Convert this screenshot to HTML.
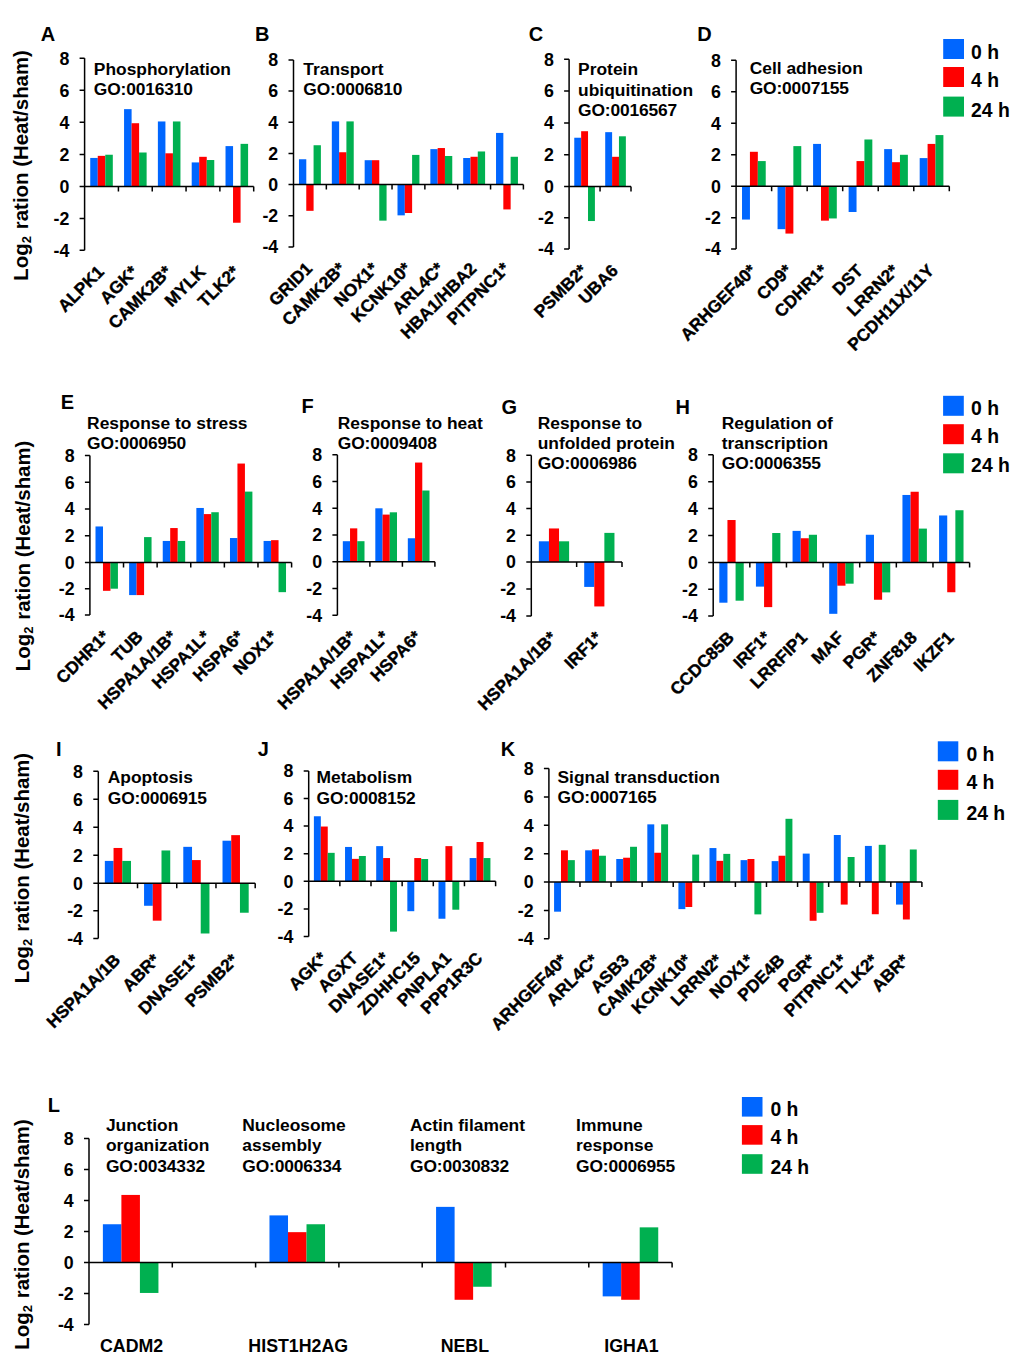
<!DOCTYPE html>
<html><head><meta charset="utf-8"><title>GO panels</title>
<style>
html,body{margin:0;padding:0;background:#fff;}
body{width:1024px;height:1369px;overflow:hidden;}
svg{display:block;}
text{font-family:"Liberation Sans", sans-serif;fill:#000;}
</style></head>
<body>
<svg width="1024" height="1369" viewBox="0 0 1024 1369">
<rect x="0" y="0" width="1024" height="1369" fill="#fff"/>
<rect x="90.24" y="157.94" width="7.54" height="28.56" fill="#0066FF"/>
<rect x="97.75" y="155.86" width="7.54" height="30.64" fill="#FF0000"/>
<rect x="105.27" y="154.74" width="7.54" height="31.76" fill="#00B050"/>
<rect x="124.06" y="109.14" width="7.54" height="77.36" fill="#0066FF"/>
<rect x="131.57" y="123.22" width="7.54" height="63.28" fill="#FF0000"/>
<rect x="139.09" y="152.5" width="7.54" height="34" fill="#00B050"/>
<rect x="157.88" y="121.46" width="7.54" height="65.04" fill="#0066FF"/>
<rect x="165.39" y="153.3" width="7.54" height="33.2" fill="#FF0000"/>
<rect x="172.91" y="121.46" width="7.54" height="65.04" fill="#00B050"/>
<rect x="191.7" y="162.42" width="7.54" height="24.08" fill="#0066FF"/>
<rect x="199.21" y="156.82" width="7.54" height="29.68" fill="#FF0000"/>
<rect x="206.73" y="160.02" width="7.54" height="26.48" fill="#00B050"/>
<rect x="225.52" y="146.1" width="7.54" height="40.4" fill="#0066FF"/>
<rect x="233.03" y="186.5" width="7.54" height="36.24" fill="#FF0000"/>
<rect x="240.55" y="143.86" width="7.54" height="42.64" fill="#00B050"/>
<path d="M84.6 58.15V250.3" stroke="#000" stroke-width="1.5" fill="none"/>
<path d="M79.6 58.15H84.6M79.6 90.24H84.6M79.6 122.33H84.6M79.6 154.41H84.6M79.6 186.5H84.6M79.6 218.4H84.6M79.6 250.3H84.6" stroke="#000" stroke-width="1.5" fill="none"/>
<path d="M84.6 186.5H253.7" stroke="#000" stroke-width="1.5" fill="none"/>
<path d="M118.42 186.5V191.5M152.24 186.5V191.5M186.06 186.5V191.5M219.88 186.5V191.5M253.7 186.5V191.5" stroke="#000" stroke-width="1.5" fill="none"/>
<text x="69.3" y="64.5" font-size="17.8" text-anchor="end" font-weight="bold">8</text>
<text x="69.3" y="96.59" font-size="17.8" text-anchor="end" font-weight="bold">6</text>
<text x="69.3" y="128.68" font-size="17.8" text-anchor="end" font-weight="bold">4</text>
<text x="69.3" y="160.77" font-size="17.8" text-anchor="end" font-weight="bold">2</text>
<text x="69.3" y="192.85" font-size="17.8" text-anchor="end" font-weight="bold">0</text>
<text x="69.3" y="224.75" font-size="17.8" text-anchor="end" font-weight="bold">-2</text>
<text x="69.3" y="256.65" font-size="17.8" text-anchor="end" font-weight="bold">-4</text>
<text x="40.7" y="41" font-size="20" text-anchor="start" font-weight="bold">A</text>
<text x="93.8" y="74.7" font-size="17.4" text-anchor="start" font-weight="bold">Phosphorylation</text>
<text x="93.8" y="95" font-size="17.4" text-anchor="start" font-weight="bold" letter-spacing="-0.15">GO:0016310</text>
<text transform="translate(105.01 273) rotate(-45)" font-size="17.3" text-anchor="end" font-weight="bold" stroke="#000" stroke-width="0.4">ALPK1</text>
<text transform="translate(138.83 273) rotate(-45)" font-size="17.3" text-anchor="end" font-weight="bold" stroke="#000" stroke-width="0.4">AGK*</text>
<text transform="translate(172.65 273) rotate(-45)" font-size="17.3" text-anchor="end" font-weight="bold" stroke="#000" stroke-width="0.4">CAMK2B*</text>
<text transform="translate(206.47 273) rotate(-45)" font-size="17.3" text-anchor="end" font-weight="bold" stroke="#000" stroke-width="0.4">MYLK</text>
<text transform="translate(240.29 273) rotate(-45)" font-size="17.3" text-anchor="end" font-weight="bold" stroke="#000" stroke-width="0.4">TLK2*</text>
<rect x="298.97" y="159.26" width="7.32" height="25.24" fill="#0066FF"/>
<rect x="306.27" y="184.5" width="7.32" height="26.33" fill="#FF0000"/>
<rect x="313.57" y="145.24" width="7.32" height="39.26" fill="#00B050"/>
<rect x="331.82" y="121.4" width="7.32" height="63.1" fill="#0066FF"/>
<rect x="339.12" y="152.25" width="7.32" height="32.25" fill="#FF0000"/>
<rect x="346.41" y="121.4" width="7.32" height="63.1" fill="#00B050"/>
<rect x="364.66" y="160.2" width="7.32" height="24.3" fill="#0066FF"/>
<rect x="371.96" y="160.2" width="7.32" height="24.3" fill="#FF0000"/>
<rect x="379.26" y="184.5" width="7.32" height="36.15" fill="#00B050"/>
<rect x="397.5" y="184.5" width="7.32" height="30.85" fill="#0066FF"/>
<rect x="404.8" y="184.5" width="7.32" height="28.51" fill="#FF0000"/>
<rect x="412.1" y="154.9" width="7.32" height="29.6" fill="#00B050"/>
<rect x="430.35" y="149.13" width="7.32" height="35.37" fill="#0066FF"/>
<rect x="437.64" y="148.04" width="7.32" height="36.46" fill="#FF0000"/>
<rect x="444.94" y="155.99" width="7.32" height="28.51" fill="#00B050"/>
<rect x="463.19" y="158.01" width="7.32" height="26.49" fill="#0066FF"/>
<rect x="470.49" y="156.77" width="7.32" height="27.73" fill="#FF0000"/>
<rect x="477.78" y="151.47" width="7.32" height="33.03" fill="#00B050"/>
<rect x="496.03" y="132.93" width="7.32" height="51.57" fill="#0066FF"/>
<rect x="503.33" y="184.5" width="7.32" height="24.93" fill="#FF0000"/>
<rect x="510.63" y="156.77" width="7.32" height="27.73" fill="#00B050"/>
<path d="M293.5 60V247" stroke="#000" stroke-width="1.5" fill="none"/>
<path d="M288.5 60H293.5M288.5 91.12H293.5M288.5 122.25H293.5M288.5 153.38H293.5M288.5 184.5H293.5M288.5 215.75H293.5M288.5 247H293.5" stroke="#000" stroke-width="1.5" fill="none"/>
<path d="M293.5 184.5H523.4" stroke="#000" stroke-width="1.5" fill="none"/>
<path d="M326.34 184.5V189.5M359.19 184.5V189.5M392.03 184.5V189.5M424.87 184.5V189.5M457.71 184.5V189.5M490.56 184.5V189.5M523.4 184.5V189.5" stroke="#000" stroke-width="1.5" fill="none"/>
<text x="278.2" y="66.35" font-size="17.8" text-anchor="end" font-weight="bold">8</text>
<text x="278.2" y="97.48" font-size="17.8" text-anchor="end" font-weight="bold">6</text>
<text x="278.2" y="128.6" font-size="17.8" text-anchor="end" font-weight="bold">4</text>
<text x="278.2" y="159.73" font-size="17.8" text-anchor="end" font-weight="bold">2</text>
<text x="278.2" y="190.85" font-size="17.8" text-anchor="end" font-weight="bold">0</text>
<text x="278.2" y="222.1" font-size="17.8" text-anchor="end" font-weight="bold">-2</text>
<text x="278.2" y="253.35" font-size="17.8" text-anchor="end" font-weight="bold">-4</text>
<text x="255" y="41.3" font-size="20" text-anchor="start" font-weight="bold">B</text>
<text x="303.3" y="74.6" font-size="17.4" text-anchor="start" font-weight="bold">Transport</text>
<text x="303.3" y="94.9" font-size="17.4" text-anchor="start" font-weight="bold" letter-spacing="-0.15">GO:0006810</text>
<text transform="translate(313.42 269.7) rotate(-45)" font-size="17.3" text-anchor="end" font-weight="bold" stroke="#000" stroke-width="0.4">GRID1</text>
<text transform="translate(346.26 269.7) rotate(-45)" font-size="17.3" text-anchor="end" font-weight="bold" stroke="#000" stroke-width="0.4">CAMK2B*</text>
<text transform="translate(379.11 269.7) rotate(-45)" font-size="17.3" text-anchor="end" font-weight="bold" stroke="#000" stroke-width="0.4">NOX1*</text>
<text transform="translate(411.95 269.7) rotate(-45)" font-size="17.3" text-anchor="end" font-weight="bold" stroke="#000" stroke-width="0.4">KCNK10*</text>
<text transform="translate(444.79 269.7) rotate(-45)" font-size="17.3" text-anchor="end" font-weight="bold" stroke="#000" stroke-width="0.4">ARL4C*</text>
<text transform="translate(477.64 269.7) rotate(-45)" font-size="17.3" text-anchor="end" font-weight="bold" stroke="#000" stroke-width="0.4">HBA1/HBA2</text>
<text transform="translate(510.48 269.7) rotate(-45)" font-size="17.3" text-anchor="end" font-weight="bold" stroke="#000" stroke-width="0.4">PITPNC1*</text>
<rect x="574.26" y="137.73" width="6.9" height="48.87" fill="#0066FF"/>
<rect x="581.14" y="131.21" width="6.9" height="55.39" fill="#FF0000"/>
<rect x="588.01" y="186.6" width="6.9" height="34.44" fill="#00B050"/>
<rect x="605.21" y="132.16" width="6.9" height="54.44" fill="#0066FF"/>
<rect x="612.09" y="156.81" width="6.9" height="29.79" fill="#FF0000"/>
<rect x="618.96" y="136.3" width="6.9" height="50.3" fill="#00B050"/>
<path d="M569.1 59.2V249.1" stroke="#000" stroke-width="1.5" fill="none"/>
<path d="M564.1 59.2H569.1M564.1 91.05H569.1M564.1 122.9H569.1M564.1 154.75H569.1M564.1 186.6H569.1M564.1 217.85H569.1M564.1 249.1H569.1" stroke="#000" stroke-width="1.5" fill="none"/>
<path d="M569.1 186.6H631" stroke="#000" stroke-width="1.5" fill="none"/>
<path d="M600.05 186.6V191.6M631 186.6V191.6" stroke="#000" stroke-width="1.5" fill="none"/>
<text x="553.8" y="65.55" font-size="17.8" text-anchor="end" font-weight="bold">8</text>
<text x="553.8" y="97.4" font-size="17.8" text-anchor="end" font-weight="bold">6</text>
<text x="553.8" y="129.25" font-size="17.8" text-anchor="end" font-weight="bold">4</text>
<text x="553.8" y="161.1" font-size="17.8" text-anchor="end" font-weight="bold">2</text>
<text x="553.8" y="192.95" font-size="17.8" text-anchor="end" font-weight="bold">0</text>
<text x="553.8" y="224.2" font-size="17.8" text-anchor="end" font-weight="bold">-2</text>
<text x="553.8" y="255.45" font-size="17.8" text-anchor="end" font-weight="bold">-4</text>
<text x="528.7" y="40.5" font-size="20" text-anchor="start" font-weight="bold">C</text>
<text x="578.1" y="75.2" font-size="17.4" text-anchor="start" font-weight="bold">Protein</text>
<text x="578.1" y="95.5" font-size="17.4" text-anchor="start" font-weight="bold">ubiquitination</text>
<text x="578.1" y="115.8" font-size="17.4" text-anchor="start" font-weight="bold" letter-spacing="-0.15">GO:0016567</text>
<text transform="translate(588.08 271.8) rotate(-45)" font-size="17.3" text-anchor="end" font-weight="bold" stroke="#000" stroke-width="0.4">PSMB2*</text>
<text transform="translate(619.02 271.8) rotate(-45)" font-size="17.3" text-anchor="end" font-weight="bold" stroke="#000" stroke-width="0.4">UBA6</text>
<rect x="742.02" y="186.3" width="7.92" height="33.25" fill="#0066FF"/>
<rect x="749.92" y="151.79" width="7.92" height="34.51" fill="#FF0000"/>
<rect x="757.81" y="161.08" width="7.92" height="25.22" fill="#00B050"/>
<rect x="777.56" y="186.3" width="7.92" height="42.87" fill="#0066FF"/>
<rect x="785.45" y="186.3" width="7.92" height="47.28" fill="#FF0000"/>
<rect x="793.35" y="146.11" width="7.92" height="40.19" fill="#00B050"/>
<rect x="813.09" y="143.91" width="7.92" height="42.39" fill="#0066FF"/>
<rect x="820.99" y="186.3" width="7.92" height="34.36" fill="#FF0000"/>
<rect x="828.88" y="186.3" width="7.92" height="32.15" fill="#00B050"/>
<rect x="848.62" y="186.3" width="7.92" height="25.69" fill="#0066FF"/>
<rect x="856.52" y="161.08" width="7.92" height="25.22" fill="#FF0000"/>
<rect x="864.41" y="139.49" width="7.92" height="46.81" fill="#00B050"/>
<rect x="884.16" y="149.11" width="7.92" height="37.19" fill="#0066FF"/>
<rect x="892.05" y="162.19" width="7.92" height="24.11" fill="#FF0000"/>
<rect x="899.95" y="154.78" width="7.92" height="31.52" fill="#00B050"/>
<rect x="919.69" y="158.09" width="7.92" height="28.21" fill="#0066FF"/>
<rect x="927.59" y="143.91" width="7.92" height="42.39" fill="#FF0000"/>
<rect x="935.48" y="135.08" width="7.92" height="51.22" fill="#00B050"/>
<path d="M736.1 60.2V249" stroke="#000" stroke-width="1.5" fill="none"/>
<path d="M731.1 60.2H736.1M731.1 91.73H736.1M731.1 123.25H736.1M731.1 154.78H736.1M731.1 186.3H736.1M731.1 217.65H736.1M731.1 249H736.1" stroke="#000" stroke-width="1.5" fill="none"/>
<path d="M736.1 186.3H949.3" stroke="#000" stroke-width="1.5" fill="none"/>
<path d="M771.63 186.3V191.3M807.17 186.3V191.3M842.7 186.3V191.3M878.23 186.3V191.3M913.77 186.3V191.3M949.3 186.3V191.3" stroke="#000" stroke-width="1.5" fill="none"/>
<text x="720.8" y="66.55" font-size="17.8" text-anchor="end" font-weight="bold">8</text>
<text x="720.8" y="98.08" font-size="17.8" text-anchor="end" font-weight="bold">6</text>
<text x="720.8" y="129.6" font-size="17.8" text-anchor="end" font-weight="bold">4</text>
<text x="720.8" y="161.13" font-size="17.8" text-anchor="end" font-weight="bold">2</text>
<text x="720.8" y="192.65" font-size="17.8" text-anchor="end" font-weight="bold">0</text>
<text x="720.8" y="224" font-size="17.8" text-anchor="end" font-weight="bold">-2</text>
<text x="720.8" y="255.35" font-size="17.8" text-anchor="end" font-weight="bold">-4</text>
<text x="697.3" y="41.3" font-size="20" text-anchor="start" font-weight="bold">D</text>
<text x="749.7" y="74.1" font-size="17.4" text-anchor="start" font-weight="bold">Cell adhesion</text>
<text x="749.7" y="94.4" font-size="17.4" text-anchor="start" font-weight="bold" letter-spacing="-0.15">GO:0007155</text>
<text transform="translate(757.37 271.7) rotate(-45)" font-size="17.3" text-anchor="end" font-weight="bold" stroke="#000" stroke-width="0.4">ARHGEF40*</text>
<text transform="translate(792.9 271.7) rotate(-45)" font-size="17.3" text-anchor="end" font-weight="bold" stroke="#000" stroke-width="0.4">CD9*</text>
<text transform="translate(828.43 271.7) rotate(-45)" font-size="17.3" text-anchor="end" font-weight="bold" stroke="#000" stroke-width="0.4">CDHR1*</text>
<text transform="translate(863.97 271.7) rotate(-45)" font-size="17.3" text-anchor="end" font-weight="bold" stroke="#000" stroke-width="0.4">DST</text>
<text transform="translate(899.5 271.7) rotate(-45)" font-size="17.3" text-anchor="end" font-weight="bold" stroke="#000" stroke-width="0.4">LRRN2*</text>
<text transform="translate(935.03 271.7) rotate(-45)" font-size="17.3" text-anchor="end" font-weight="bold" stroke="#000" stroke-width="0.4">PCDH11X/11Y</text>
<rect x="95.5" y="526.46" width="7.49" height="36.04" fill="#0066FF"/>
<rect x="102.97" y="562.5" width="7.49" height="28.33" fill="#FF0000"/>
<rect x="110.44" y="562.5" width="7.49" height="26.2" fill="#00B050"/>
<rect x="129.12" y="562.5" width="7.49" height="32.59" fill="#0066FF"/>
<rect x="136.59" y="562.5" width="7.49" height="32.59" fill="#FF0000"/>
<rect x="144.06" y="537.1" width="7.49" height="25.4" fill="#00B050"/>
<rect x="162.74" y="540.95" width="7.49" height="21.55" fill="#0066FF"/>
<rect x="170.21" y="528.05" width="7.49" height="34.45" fill="#FF0000"/>
<rect x="177.68" y="540.95" width="7.49" height="21.55" fill="#00B050"/>
<rect x="196.35" y="507.97" width="7.49" height="54.53" fill="#0066FF"/>
<rect x="203.82" y="514.09" width="7.49" height="48.41" fill="#FF0000"/>
<rect x="211.29" y="512.23" width="7.49" height="50.27" fill="#00B050"/>
<rect x="229.97" y="538.03" width="7.49" height="24.47" fill="#0066FF"/>
<rect x="237.44" y="463.55" width="7.49" height="98.95" fill="#FF0000"/>
<rect x="244.91" y="491.61" width="7.49" height="70.89" fill="#00B050"/>
<rect x="263.59" y="540.95" width="7.49" height="21.55" fill="#0066FF"/>
<rect x="271.06" y="540.16" width="7.49" height="22.34" fill="#FF0000"/>
<rect x="278.53" y="562.5" width="7.49" height="29.66" fill="#00B050"/>
<path d="M89.9 455.4V615.1" stroke="#000" stroke-width="1.5" fill="none"/>
<path d="M84.9 455.4H89.9M84.9 482.17H89.9M84.9 508.95H89.9M84.9 535.73H89.9M84.9 562.5H89.9M84.9 588.8H89.9M84.9 615.1H89.9" stroke="#000" stroke-width="1.5" fill="none"/>
<path d="M89.9 562.5H291.6" stroke="#000" stroke-width="1.5" fill="none"/>
<path d="M123.52 562.5V567.5M157.13 562.5V567.5M190.75 562.5V567.5M224.37 562.5V567.5M257.98 562.5V567.5M291.6 562.5V567.5" stroke="#000" stroke-width="1.5" fill="none"/>
<text x="74.6" y="461.75" font-size="17.8" text-anchor="end" font-weight="bold">8</text>
<text x="74.6" y="488.53" font-size="17.8" text-anchor="end" font-weight="bold">6</text>
<text x="74.6" y="515.3" font-size="17.8" text-anchor="end" font-weight="bold">4</text>
<text x="74.6" y="542.08" font-size="17.8" text-anchor="end" font-weight="bold">2</text>
<text x="74.6" y="568.85" font-size="17.8" text-anchor="end" font-weight="bold">0</text>
<text x="74.6" y="595.15" font-size="17.8" text-anchor="end" font-weight="bold">-2</text>
<text x="74.6" y="621.45" font-size="17.8" text-anchor="end" font-weight="bold">-4</text>
<text x="60.8" y="408.75" font-size="20" text-anchor="start" font-weight="bold">E</text>
<text x="87.1" y="428.6" font-size="17.4" text-anchor="start" font-weight="bold">Response to stress</text>
<text x="87.1" y="448.9" font-size="17.4" text-anchor="start" font-weight="bold" letter-spacing="-0.15">GO:0006950</text>
<text transform="translate(110.21 637.8) rotate(-45)" font-size="17.3" text-anchor="end" font-weight="bold" stroke="#000" stroke-width="0.4">CDHR1*</text>
<text transform="translate(143.82 637.8) rotate(-45)" font-size="17.3" text-anchor="end" font-weight="bold" stroke="#000" stroke-width="0.4">TUB</text>
<text transform="translate(177.44 637.8) rotate(-45)" font-size="17.3" text-anchor="end" font-weight="bold" stroke="#000" stroke-width="0.4">HSPA1A/1B*</text>
<text transform="translate(211.06 637.8) rotate(-45)" font-size="17.3" text-anchor="end" font-weight="bold" stroke="#000" stroke-width="0.4">HSPA1L*</text>
<text transform="translate(244.68 637.8) rotate(-45)" font-size="17.3" text-anchor="end" font-weight="bold" stroke="#000" stroke-width="0.4">HSPA6*</text>
<text transform="translate(278.29 637.8) rotate(-45)" font-size="17.3" text-anchor="end" font-weight="bold" stroke="#000" stroke-width="0.4">NOX1*</text>
<rect x="342.82" y="541.2" width="7.24" height="20.6" fill="#0066FF"/>
<rect x="350.04" y="528.36" width="7.24" height="33.44" fill="#FF0000"/>
<rect x="357.26" y="541.2" width="7.24" height="20.6" fill="#00B050"/>
<rect x="375.32" y="508.3" width="7.24" height="53.5" fill="#0066FF"/>
<rect x="382.54" y="514.59" width="7.24" height="47.21" fill="#FF0000"/>
<rect x="389.76" y="512.31" width="7.24" height="49.49" fill="#00B050"/>
<rect x="407.82" y="538.26" width="7.24" height="23.54" fill="#0066FF"/>
<rect x="415.04" y="462.56" width="7.24" height="99.24" fill="#FF0000"/>
<rect x="422.26" y="490.51" width="7.24" height="71.29" fill="#00B050"/>
<path d="M337.4 454.8V615.3" stroke="#000" stroke-width="1.5" fill="none"/>
<path d="M332.4 454.8H337.4M332.4 481.55H337.4M332.4 508.3H337.4M332.4 535.05H337.4M332.4 561.8H337.4M332.4 588.55H337.4M332.4 615.3H337.4" stroke="#000" stroke-width="1.5" fill="none"/>
<path d="M337.4 561.8H434.9" stroke="#000" stroke-width="1.5" fill="none"/>
<path d="M369.9 561.8V566.8M402.4 561.8V566.8M434.9 561.8V566.8" stroke="#000" stroke-width="1.5" fill="none"/>
<text x="322.1" y="461.15" font-size="17.8" text-anchor="end" font-weight="bold">8</text>
<text x="322.1" y="487.9" font-size="17.8" text-anchor="end" font-weight="bold">6</text>
<text x="322.1" y="514.65" font-size="17.8" text-anchor="end" font-weight="bold">4</text>
<text x="322.1" y="541.4" font-size="17.8" text-anchor="end" font-weight="bold">2</text>
<text x="322.1" y="568.15" font-size="17.8" text-anchor="end" font-weight="bold">0</text>
<text x="322.1" y="594.9" font-size="17.8" text-anchor="end" font-weight="bold">-2</text>
<text x="322.1" y="621.65" font-size="17.8" text-anchor="end" font-weight="bold">-4</text>
<text x="301.4" y="413.4" font-size="20" text-anchor="start" font-weight="bold">F</text>
<text x="337.8" y="428.6" font-size="17.4" text-anchor="start" font-weight="bold">Response to heat</text>
<text x="337.8" y="448.9" font-size="17.4" text-anchor="start" font-weight="bold" letter-spacing="-0.15">GO:0009408</text>
<text transform="translate(357.15 638) rotate(-45)" font-size="17.3" text-anchor="end" font-weight="bold" stroke="#000" stroke-width="0.4">HSPA1A/1B*</text>
<text transform="translate(389.65 638) rotate(-45)" font-size="17.3" text-anchor="end" font-weight="bold" stroke="#000" stroke-width="0.4">HSPA1L*</text>
<text transform="translate(422.15 638) rotate(-45)" font-size="17.3" text-anchor="end" font-weight="bold" stroke="#000" stroke-width="0.4">HSPA6*</text>
<rect x="538.86" y="541.3" width="10.1" height="20.6" fill="#0066FF"/>
<rect x="548.94" y="528.46" width="10.1" height="33.44" fill="#FF0000"/>
<rect x="559.01" y="541.3" width="10.1" height="20.6" fill="#00B050"/>
<rect x="584.21" y="561.9" width="10.1" height="25.01" fill="#0066FF"/>
<rect x="594.29" y="561.9" width="10.1" height="44.54" fill="#FF0000"/>
<rect x="604.36" y="532.88" width="10.1" height="29.02" fill="#00B050"/>
<path d="M531.3 455.3V616.1" stroke="#000" stroke-width="1.5" fill="none"/>
<path d="M526.3 455.3H531.3M526.3 481.95H531.3M526.3 508.6H531.3M526.3 535.25H531.3M526.3 561.9H531.3M526.3 589H531.3M526.3 616.1H531.3" stroke="#000" stroke-width="1.5" fill="none"/>
<path d="M531.3 561.9H622" stroke="#000" stroke-width="1.5" fill="none"/>
<path d="M576.65 561.9V566.9M622 561.9V566.9" stroke="#000" stroke-width="1.5" fill="none"/>
<text x="516" y="461.65" font-size="17.8" text-anchor="end" font-weight="bold">8</text>
<text x="516" y="488.3" font-size="17.8" text-anchor="end" font-weight="bold">6</text>
<text x="516" y="514.95" font-size="17.8" text-anchor="end" font-weight="bold">4</text>
<text x="516" y="541.6" font-size="17.8" text-anchor="end" font-weight="bold">2</text>
<text x="516" y="568.25" font-size="17.8" text-anchor="end" font-weight="bold">0</text>
<text x="516" y="595.35" font-size="17.8" text-anchor="end" font-weight="bold">-2</text>
<text x="516" y="622.45" font-size="17.8" text-anchor="end" font-weight="bold">-4</text>
<text x="501.5" y="414" font-size="20" text-anchor="start" font-weight="bold">G</text>
<text x="537.7" y="428.6" font-size="17.4" text-anchor="start" font-weight="bold">Response to</text>
<text x="537.7" y="448.9" font-size="17.4" text-anchor="start" font-weight="bold">unfolded protein</text>
<text x="537.7" y="469.2" font-size="17.4" text-anchor="start" font-weight="bold" letter-spacing="-0.15">GO:0006986</text>
<text transform="translate(557.47 638.8) rotate(-45)" font-size="17.3" text-anchor="end" font-weight="bold" stroke="#000" stroke-width="0.4">HSPA1A/1B*</text>
<text transform="translate(602.83 638.8) rotate(-45)" font-size="17.3" text-anchor="end" font-weight="bold" stroke="#000" stroke-width="0.4">IRF1*</text>
<rect x="719.3" y="562.5" width="8.16" height="40.2" fill="#0066FF"/>
<rect x="727.44" y="520.02" width="8.16" height="42.48" fill="#FF0000"/>
<rect x="735.58" y="562.5" width="8.16" height="38.19" fill="#00B050"/>
<rect x="755.93" y="562.5" width="8.16" height="24.12" fill="#0066FF"/>
<rect x="764.07" y="562.5" width="8.16" height="44.62" fill="#FF0000"/>
<rect x="772.21" y="533.02" width="8.16" height="29.48" fill="#00B050"/>
<rect x="792.56" y="530.88" width="8.16" height="31.62" fill="#0066FF"/>
<rect x="800.7" y="538.25" width="8.16" height="24.25" fill="#FF0000"/>
<rect x="808.84" y="534.76" width="8.16" height="27.74" fill="#00B050"/>
<rect x="829.19" y="562.5" width="8.16" height="51.32" fill="#0066FF"/>
<rect x="837.33" y="562.5" width="8.16" height="23.18" fill="#FF0000"/>
<rect x="845.47" y="562.5" width="8.16" height="21.17" fill="#00B050"/>
<rect x="865.82" y="534.76" width="8.16" height="27.74" fill="#0066FF"/>
<rect x="873.96" y="562.5" width="8.16" height="37.25" fill="#FF0000"/>
<rect x="882.1" y="562.5" width="8.16" height="29.88" fill="#00B050"/>
<rect x="902.45" y="494.96" width="8.16" height="67.54" fill="#0066FF"/>
<rect x="910.59" y="491.75" width="8.16" height="70.75" fill="#FF0000"/>
<rect x="918.73" y="528.6" width="8.16" height="33.9" fill="#00B050"/>
<rect x="939.08" y="515.47" width="8.16" height="47.03" fill="#0066FF"/>
<rect x="947.22" y="562.5" width="8.16" height="29.75" fill="#FF0000"/>
<rect x="955.36" y="510.24" width="8.16" height="52.26" fill="#00B050"/>
<path d="M713.2 454.7V615.9" stroke="#000" stroke-width="1.5" fill="none"/>
<path d="M708.2 454.7H713.2M708.2 481.65H713.2M708.2 508.6H713.2M708.2 535.55H713.2M708.2 562.5H713.2M708.2 589.2H713.2M708.2 615.9H713.2" stroke="#000" stroke-width="1.5" fill="none"/>
<path d="M713.2 562.5H969.6" stroke="#000" stroke-width="1.5" fill="none"/>
<path d="M749.83 562.5V567.5M786.46 562.5V567.5M823.09 562.5V567.5M859.71 562.5V567.5M896.34 562.5V567.5M932.97 562.5V567.5M969.6 562.5V567.5" stroke="#000" stroke-width="1.5" fill="none"/>
<text x="697.9" y="461.05" font-size="17.8" text-anchor="end" font-weight="bold">8</text>
<text x="697.9" y="488" font-size="17.8" text-anchor="end" font-weight="bold">6</text>
<text x="697.9" y="514.95" font-size="17.8" text-anchor="end" font-weight="bold">4</text>
<text x="697.9" y="541.9" font-size="17.8" text-anchor="end" font-weight="bold">2</text>
<text x="697.9" y="568.85" font-size="17.8" text-anchor="end" font-weight="bold">0</text>
<text x="697.9" y="595.55" font-size="17.8" text-anchor="end" font-weight="bold">-2</text>
<text x="697.9" y="622.25" font-size="17.8" text-anchor="end" font-weight="bold">-4</text>
<text x="675.6" y="413.7" font-size="20" text-anchor="start" font-weight="bold">H</text>
<text x="721.8" y="428.5" font-size="17.4" text-anchor="start" font-weight="bold">Regulation of</text>
<text x="721.8" y="448.8" font-size="17.4" text-anchor="start" font-weight="bold">transcription</text>
<text x="721.8" y="469.1" font-size="17.4" text-anchor="start" font-weight="bold" letter-spacing="-0.15">GO:0006355</text>
<text transform="translate(735.01 638.6) rotate(-45)" font-size="17.3" text-anchor="end" font-weight="bold" stroke="#000" stroke-width="0.4">CCDC85B</text>
<text transform="translate(771.64 638.6) rotate(-45)" font-size="17.3" text-anchor="end" font-weight="bold" stroke="#000" stroke-width="0.4">IRF1*</text>
<text transform="translate(808.27 638.6) rotate(-45)" font-size="17.3" text-anchor="end" font-weight="bold" stroke="#000" stroke-width="0.4">LRRFIP1</text>
<text transform="translate(844.9 638.6) rotate(-45)" font-size="17.3" text-anchor="end" font-weight="bold" stroke="#000" stroke-width="0.4">MAF</text>
<text transform="translate(881.53 638.6) rotate(-45)" font-size="17.3" text-anchor="end" font-weight="bold" stroke="#000" stroke-width="0.4">PGR*</text>
<text transform="translate(918.16 638.6) rotate(-45)" font-size="17.3" text-anchor="end" font-weight="bold" stroke="#000" stroke-width="0.4">ZNF818</text>
<text transform="translate(954.79 638.6) rotate(-45)" font-size="17.3" text-anchor="end" font-weight="bold" stroke="#000" stroke-width="0.4">IKZF1</text>
<rect x="104.84" y="860.91" width="8.74" height="22.29" fill="#0066FF"/>
<rect x="113.55" y="847.96" width="8.74" height="35.24" fill="#FF0000"/>
<rect x="122.27" y="860.91" width="8.74" height="22.29" fill="#00B050"/>
<rect x="144.06" y="883.2" width="8.74" height="22.57" fill="#0066FF"/>
<rect x="152.78" y="883.2" width="8.74" height="37.47" fill="#FF0000"/>
<rect x="161.5" y="850.46" width="8.74" height="32.74" fill="#00B050"/>
<rect x="183.29" y="846.84" width="8.74" height="36.36" fill="#0066FF"/>
<rect x="192" y="860.08" width="8.74" height="23.12" fill="#FF0000"/>
<rect x="200.72" y="883.2" width="8.74" height="50.29" fill="#00B050"/>
<rect x="222.51" y="840.71" width="8.74" height="42.49" fill="#0066FF"/>
<rect x="231.23" y="835.14" width="8.74" height="48.06" fill="#FF0000"/>
<rect x="239.95" y="883.2" width="8.74" height="29.53" fill="#00B050"/>
<path d="M98.3 771.3V938.5" stroke="#000" stroke-width="1.5" fill="none"/>
<path d="M93.3 771.3H98.3M93.3 799.27H98.3M93.3 827.25H98.3M93.3 855.23H98.3M93.3 883.2H98.3M93.3 910.85H98.3M93.3 938.5H98.3" stroke="#000" stroke-width="1.5" fill="none"/>
<path d="M98.3 883.2H255.2" stroke="#000" stroke-width="1.5" fill="none"/>
<path d="M137.52 883.2V888.2M176.75 883.2V888.2M215.97 883.2V888.2M255.2 883.2V888.2" stroke="#000" stroke-width="1.5" fill="none"/>
<text x="83" y="777.65" font-size="17.8" text-anchor="end" font-weight="bold">8</text>
<text x="83" y="805.63" font-size="17.8" text-anchor="end" font-weight="bold">6</text>
<text x="83" y="833.6" font-size="17.8" text-anchor="end" font-weight="bold">4</text>
<text x="83" y="861.58" font-size="17.8" text-anchor="end" font-weight="bold">2</text>
<text x="83" y="889.55" font-size="17.8" text-anchor="end" font-weight="bold">0</text>
<text x="83" y="917.2" font-size="17.8" text-anchor="end" font-weight="bold">-2</text>
<text x="83" y="944.85" font-size="17.8" text-anchor="end" font-weight="bold">-4</text>
<text x="55.9" y="755.5" font-size="20" text-anchor="start" font-weight="bold">I</text>
<text x="107.8" y="783.2" font-size="17.4" text-anchor="start" font-weight="bold">Apoptosis</text>
<text x="107.8" y="803.5" font-size="17.4" text-anchor="start" font-weight="bold" letter-spacing="-0.15">GO:0006915</text>
<text transform="translate(121.41 961.2) rotate(-45)" font-size="17.3" text-anchor="end" font-weight="bold" stroke="#000" stroke-width="0.4">HSPA1A/1B</text>
<text transform="translate(160.64 961.2) rotate(-45)" font-size="17.3" text-anchor="end" font-weight="bold" stroke="#000" stroke-width="0.4">ABR*</text>
<text transform="translate(199.86 961.2) rotate(-45)" font-size="17.3" text-anchor="end" font-weight="bold" stroke="#000" stroke-width="0.4">DNASE1*</text>
<text transform="translate(239.09 961.2) rotate(-45)" font-size="17.3" text-anchor="end" font-weight="bold" stroke="#000" stroke-width="0.4">PSMB2*</text>
<rect x="313.89" y="816.26" width="6.94" height="64.94" fill="#0066FF"/>
<rect x="320.81" y="826.54" width="6.94" height="54.66" fill="#FF0000"/>
<rect x="327.74" y="852.84" width="6.94" height="28.36" fill="#00B050"/>
<rect x="345.04" y="846.95" width="6.94" height="34.25" fill="#0066FF"/>
<rect x="351.96" y="858.87" width="6.94" height="22.33" fill="#FF0000"/>
<rect x="358.89" y="855.99" width="6.94" height="25.21" fill="#00B050"/>
<rect x="376.19" y="846.13" width="6.94" height="35.07" fill="#0066FF"/>
<rect x="383.11" y="858.05" width="6.94" height="23.15" fill="#FF0000"/>
<rect x="390.04" y="881.2" width="6.94" height="50.42" fill="#00B050"/>
<rect x="407.34" y="881.2" width="6.94" height="30" fill="#0066FF"/>
<rect x="414.26" y="858.05" width="6.94" height="23.15" fill="#FF0000"/>
<rect x="421.19" y="859.01" width="6.94" height="22.19" fill="#00B050"/>
<rect x="438.49" y="881.2" width="6.94" height="37.54" fill="#0066FF"/>
<rect x="445.41" y="846.13" width="6.94" height="35.07" fill="#FF0000"/>
<rect x="452.34" y="881.2" width="6.94" height="28.5" fill="#00B050"/>
<rect x="469.64" y="858.05" width="6.94" height="23.15" fill="#0066FF"/>
<rect x="476.56" y="842.02" width="6.94" height="39.18" fill="#FF0000"/>
<rect x="483.49" y="858.05" width="6.94" height="23.15" fill="#00B050"/>
<path d="M308.7 771V936.6" stroke="#000" stroke-width="1.5" fill="none"/>
<path d="M303.7 771H308.7M303.7 798.55H308.7M303.7 826.1H308.7M303.7 853.65H308.7M303.7 881.2H308.7M303.7 908.9H308.7M303.7 936.6H308.7" stroke="#000" stroke-width="1.5" fill="none"/>
<path d="M308.7 881.2H495.6" stroke="#000" stroke-width="1.5" fill="none"/>
<path d="M339.85 881.2V886.2M371 881.2V886.2M402.15 881.2V886.2M433.3 881.2V886.2M464.45 881.2V886.2M495.6 881.2V886.2" stroke="#000" stroke-width="1.5" fill="none"/>
<text x="293.4" y="777.35" font-size="17.8" text-anchor="end" font-weight="bold">8</text>
<text x="293.4" y="804.9" font-size="17.8" text-anchor="end" font-weight="bold">6</text>
<text x="293.4" y="832.45" font-size="17.8" text-anchor="end" font-weight="bold">4</text>
<text x="293.4" y="860" font-size="17.8" text-anchor="end" font-weight="bold">2</text>
<text x="293.4" y="887.55" font-size="17.8" text-anchor="end" font-weight="bold">0</text>
<text x="293.4" y="915.25" font-size="17.8" text-anchor="end" font-weight="bold">-2</text>
<text x="293.4" y="942.95" font-size="17.8" text-anchor="end" font-weight="bold">-4</text>
<text x="257.7" y="755.5" font-size="20" text-anchor="start" font-weight="bold">J</text>
<text x="316.5" y="783.2" font-size="17.4" text-anchor="start" font-weight="bold">Metabolism</text>
<text x="316.5" y="803.5" font-size="17.4" text-anchor="start" font-weight="bold" letter-spacing="-0.15">GO:0008152</text>
<text transform="translate(327.77 959.3) rotate(-45)" font-size="17.3" text-anchor="end" font-weight="bold" stroke="#000" stroke-width="0.4">AGK*</text>
<text transform="translate(358.93 959.3) rotate(-45)" font-size="17.3" text-anchor="end" font-weight="bold" stroke="#000" stroke-width="0.4">AGXT</text>
<text transform="translate(390.07 959.3) rotate(-45)" font-size="17.3" text-anchor="end" font-weight="bold" stroke="#000" stroke-width="0.4">DNASE1*</text>
<text transform="translate(421.23 959.3) rotate(-45)" font-size="17.3" text-anchor="end" font-weight="bold" stroke="#000" stroke-width="0.4">ZDHHC15</text>
<text transform="translate(452.38 959.3) rotate(-45)" font-size="17.3" text-anchor="end" font-weight="bold" stroke="#000" stroke-width="0.4">PNPLA1</text>
<text transform="translate(483.53 959.3) rotate(-45)" font-size="17.3" text-anchor="end" font-weight="bold" stroke="#000" stroke-width="0.4">PPP1R3C</text>
<rect x="554.08" y="882.1" width="6.93" height="29.58" fill="#0066FF"/>
<rect x="560.99" y="850.33" width="6.93" height="31.77" fill="#FF0000"/>
<rect x="567.9" y="860.13" width="6.93" height="21.97" fill="#00B050"/>
<rect x="585.16" y="850.33" width="6.93" height="31.77" fill="#0066FF"/>
<rect x="592.07" y="849.34" width="6.93" height="32.76" fill="#FF0000"/>
<rect x="598.98" y="855.73" width="6.93" height="26.37" fill="#00B050"/>
<rect x="616.25" y="859" width="6.93" height="23.1" fill="#0066FF"/>
<rect x="623.15" y="857.72" width="6.93" height="24.38" fill="#FF0000"/>
<rect x="630.06" y="846.78" width="6.93" height="35.32" fill="#00B050"/>
<rect x="647.33" y="824.35" width="6.93" height="57.75" fill="#0066FF"/>
<rect x="654.24" y="852.75" width="6.93" height="29.35" fill="#FF0000"/>
<rect x="661.15" y="824.35" width="6.93" height="57.75" fill="#00B050"/>
<rect x="678.41" y="882.1" width="6.93" height="27.02" fill="#0066FF"/>
<rect x="685.32" y="882.1" width="6.93" height="24.89" fill="#FF0000"/>
<rect x="692.23" y="854.59" width="6.93" height="27.51" fill="#00B050"/>
<rect x="709.5" y="848.06" width="6.93" height="34.04" fill="#0066FF"/>
<rect x="716.4" y="860.84" width="6.93" height="21.26" fill="#FF0000"/>
<rect x="723.31" y="853.88" width="6.93" height="28.22" fill="#00B050"/>
<rect x="740.58" y="860.13" width="6.93" height="21.97" fill="#0066FF"/>
<rect x="747.49" y="859" width="6.93" height="23.1" fill="#FF0000"/>
<rect x="754.4" y="882.1" width="6.93" height="32.28" fill="#00B050"/>
<rect x="771.66" y="861.13" width="6.93" height="20.97" fill="#0066FF"/>
<rect x="778.57" y="855.73" width="6.93" height="26.37" fill="#FF0000"/>
<rect x="785.48" y="818.81" width="6.93" height="63.29" fill="#00B050"/>
<rect x="802.75" y="853.6" width="6.93" height="28.5" fill="#0066FF"/>
<rect x="809.65" y="882.1" width="6.93" height="38.67" fill="#FF0000"/>
<rect x="816.56" y="882.1" width="6.93" height="30.71" fill="#00B050"/>
<rect x="833.83" y="835" width="6.93" height="47.1" fill="#0066FF"/>
<rect x="840.74" y="882.1" width="6.93" height="22.48" fill="#FF0000"/>
<rect x="847.65" y="857.01" width="6.93" height="25.09" fill="#00B050"/>
<rect x="864.91" y="845.93" width="6.93" height="36.17" fill="#0066FF"/>
<rect x="871.82" y="882.1" width="6.93" height="32.13" fill="#FF0000"/>
<rect x="878.73" y="844.8" width="6.93" height="37.3" fill="#00B050"/>
<rect x="896" y="882.1" width="6.93" height="22.48" fill="#0066FF"/>
<rect x="902.9" y="882.1" width="6.93" height="37.39" fill="#FF0000"/>
<rect x="909.81" y="849.48" width="6.93" height="32.62" fill="#00B050"/>
<path d="M548.9 768.6V938.7" stroke="#000" stroke-width="1.5" fill="none"/>
<path d="M543.9 768.6H548.9M543.9 796.98H548.9M543.9 825.35H548.9M543.9 853.73H548.9M543.9 882.1H548.9M543.9 910.4H548.9M543.9 938.7H548.9" stroke="#000" stroke-width="1.5" fill="none"/>
<path d="M548.9 882.1H921.9" stroke="#000" stroke-width="1.5" fill="none"/>
<path d="M579.98 882.1V887.1M611.07 882.1V887.1M642.15 882.1V887.1M673.23 882.1V887.1M704.32 882.1V887.1M735.4 882.1V887.1M766.48 882.1V887.1M797.57 882.1V887.1M828.65 882.1V887.1M859.73 882.1V887.1M890.82 882.1V887.1M921.9 882.1V887.1" stroke="#000" stroke-width="1.5" fill="none"/>
<text x="533.6" y="774.95" font-size="17.8" text-anchor="end" font-weight="bold">8</text>
<text x="533.6" y="803.33" font-size="17.8" text-anchor="end" font-weight="bold">6</text>
<text x="533.6" y="831.7" font-size="17.8" text-anchor="end" font-weight="bold">4</text>
<text x="533.6" y="860.08" font-size="17.8" text-anchor="end" font-weight="bold">2</text>
<text x="533.6" y="888.45" font-size="17.8" text-anchor="end" font-weight="bold">0</text>
<text x="533.6" y="916.75" font-size="17.8" text-anchor="end" font-weight="bold">-2</text>
<text x="533.6" y="945.05" font-size="17.8" text-anchor="end" font-weight="bold">-4</text>
<text x="500.7" y="756.1" font-size="20" text-anchor="start" font-weight="bold">K</text>
<text x="557.5" y="783" font-size="17.4" text-anchor="start" font-weight="bold">Signal transduction</text>
<text x="557.5" y="803.3" font-size="17.4" text-anchor="start" font-weight="bold" letter-spacing="-0.15">GO:0007165</text>
<text transform="translate(567.94 961.4) rotate(-45)" font-size="17.3" text-anchor="end" font-weight="bold" stroke="#000" stroke-width="0.4">ARHGEF40*</text>
<text transform="translate(599.02 961.4) rotate(-45)" font-size="17.3" text-anchor="end" font-weight="bold" stroke="#000" stroke-width="0.4">ARL4C*</text>
<text transform="translate(630.11 961.4) rotate(-45)" font-size="17.3" text-anchor="end" font-weight="bold" stroke="#000" stroke-width="0.4">ASB3</text>
<text transform="translate(661.19 961.4) rotate(-45)" font-size="17.3" text-anchor="end" font-weight="bold" stroke="#000" stroke-width="0.4">CAMK2B*</text>
<text transform="translate(692.27 961.4) rotate(-45)" font-size="17.3" text-anchor="end" font-weight="bold" stroke="#000" stroke-width="0.4">KCNK10*</text>
<text transform="translate(723.36 961.4) rotate(-45)" font-size="17.3" text-anchor="end" font-weight="bold" stroke="#000" stroke-width="0.4">LRRN2*</text>
<text transform="translate(754.44 961.4) rotate(-45)" font-size="17.3" text-anchor="end" font-weight="bold" stroke="#000" stroke-width="0.4">NOX1*</text>
<text transform="translate(785.52 961.4) rotate(-45)" font-size="17.3" text-anchor="end" font-weight="bold" stroke="#000" stroke-width="0.4">PDE4B</text>
<text transform="translate(816.61 961.4) rotate(-45)" font-size="17.3" text-anchor="end" font-weight="bold" stroke="#000" stroke-width="0.4">PGR*</text>
<text transform="translate(847.69 961.4) rotate(-45)" font-size="17.3" text-anchor="end" font-weight="bold" stroke="#000" stroke-width="0.4">PITPNC1*</text>
<text transform="translate(878.77 961.4) rotate(-45)" font-size="17.3" text-anchor="end" font-weight="bold" stroke="#000" stroke-width="0.4">TLK2*</text>
<text transform="translate(909.86 961.4) rotate(-45)" font-size="17.3" text-anchor="end" font-weight="bold" stroke="#000" stroke-width="0.4">ABR*</text>
<rect x="102.88" y="1224.25" width="18.53" height="38.35" fill="#0066FF"/>
<rect x="121.39" y="1194.93" width="18.53" height="67.67" fill="#FF0000"/>
<rect x="139.91" y="1262.6" width="18.53" height="30.35" fill="#00B050"/>
<rect x="269.48" y="1215.4" width="18.53" height="47.2" fill="#0066FF"/>
<rect x="287.99" y="1232.16" width="18.53" height="30.44" fill="#FF0000"/>
<rect x="306.51" y="1224.25" width="18.53" height="38.35" fill="#00B050"/>
<rect x="436.08" y="1206.87" width="18.53" height="55.73" fill="#0066FF"/>
<rect x="454.59" y="1262.6" width="18.53" height="37.18" fill="#FF0000"/>
<rect x="473.11" y="1262.6" width="18.53" height="24.15" fill="#00B050"/>
<rect x="602.68" y="1262.6" width="18.53" height="33.77" fill="#0066FF"/>
<rect x="621.19" y="1262.6" width="18.53" height="37.18" fill="#FF0000"/>
<rect x="639.71" y="1227.35" width="18.53" height="35.25" fill="#00B050"/>
<path d="M89 1138.4V1324.4" stroke="#000" stroke-width="1.5" fill="none"/>
<path d="M84 1138.4H89M84 1169.45H89M84 1200.5H89M84 1231.55H89M84 1262.6H89M84 1293.5H89M84 1324.4H89" stroke="#000" stroke-width="1.5" fill="none"/>
<path d="M89 1262.6H672.1" stroke="#000" stroke-width="1.5" fill="none"/>
<path d="M172.3 1262.6V1267.6M255.6 1262.6V1267.6M338.9 1262.6V1267.6M422.2 1262.6V1267.6M505.5 1262.6V1267.6M588.8 1262.6V1267.6M672.1 1262.6V1267.6" stroke="#000" stroke-width="1.5" fill="none"/>
<text x="73.7" y="1144.75" font-size="17.8" text-anchor="end" font-weight="bold">8</text>
<text x="73.7" y="1175.8" font-size="17.8" text-anchor="end" font-weight="bold">6</text>
<text x="73.7" y="1206.85" font-size="17.8" text-anchor="end" font-weight="bold">4</text>
<text x="73.7" y="1237.9" font-size="17.8" text-anchor="end" font-weight="bold">2</text>
<text x="73.7" y="1268.95" font-size="17.8" text-anchor="end" font-weight="bold">0</text>
<text x="73.7" y="1299.85" font-size="17.8" text-anchor="end" font-weight="bold">-2</text>
<text x="73.7" y="1330.75" font-size="17.8" text-anchor="end" font-weight="bold">-4</text>
<text x="47.7" y="1112" font-size="20" text-anchor="start" font-weight="bold">L</text>
<text x="131.65" y="1352.4" font-size="17.8" text-anchor="middle" font-weight="bold">CADM2</text>
<text x="298.25" y="1352.4" font-size="17.8" text-anchor="middle" font-weight="bold">HIST1H2AG</text>
<text x="464.85" y="1352.4" font-size="17.8" text-anchor="middle" font-weight="bold">NEBL</text>
<text x="631.45" y="1352.4" font-size="17.8" text-anchor="middle" font-weight="bold">IGHA1</text>
<text x="105.9" y="1131" font-size="17.4" text-anchor="start" font-weight="bold">Junction</text>
<text x="105.9" y="1151.3" font-size="17.4" text-anchor="start" font-weight="bold">organization</text>
<text x="105.9" y="1171.6" font-size="17.4" text-anchor="start" font-weight="bold" letter-spacing="-0.15">GO:0034332</text>
<text x="242.3" y="1131" font-size="17.4" text-anchor="start" font-weight="bold">Nucleosome</text>
<text x="242.3" y="1151.3" font-size="17.4" text-anchor="start" font-weight="bold">assembly</text>
<text x="242.3" y="1171.6" font-size="17.4" text-anchor="start" font-weight="bold" letter-spacing="-0.15">GO:0006334</text>
<text x="410" y="1131" font-size="17.4" text-anchor="start" font-weight="bold">Actin filament</text>
<text x="410" y="1151.3" font-size="17.4" text-anchor="start" font-weight="bold">length</text>
<text x="410" y="1171.6" font-size="17.4" text-anchor="start" font-weight="bold" letter-spacing="-0.15">GO:0030832</text>
<text x="576.1" y="1131" font-size="17.4" text-anchor="start" font-weight="bold">Immune</text>
<text x="576.1" y="1151.3" font-size="17.4" text-anchor="start" font-weight="bold">response</text>
<text x="576.1" y="1171.6" font-size="17.4" text-anchor="start" font-weight="bold" letter-spacing="-0.15">GO:0006955</text>
<rect x="943.2" y="39" width="20.8" height="20" fill="#0066FF"/>
<text x="971" y="58.6" font-size="19.4" text-anchor="start" font-weight="bold">0 h</text>
<rect x="943.2" y="67" width="20.8" height="20" fill="#FF0000"/>
<text x="971" y="86.8" font-size="19.4" text-anchor="start" font-weight="bold">4 h</text>
<rect x="943.2" y="96.6" width="20.8" height="20" fill="#00B050"/>
<text x="971" y="116.5" font-size="19.4" text-anchor="start" font-weight="bold">24 h</text>
<rect x="943.1" y="395.8" width="20.7" height="20" fill="#0066FF"/>
<text x="971.1" y="415.1" font-size="19.4" text-anchor="start" font-weight="bold">0 h</text>
<rect x="943.1" y="424.2" width="20.7" height="20" fill="#FF0000"/>
<text x="971.1" y="442.6" font-size="19.4" text-anchor="start" font-weight="bold">4 h</text>
<rect x="943.1" y="453.3" width="20.7" height="20" fill="#00B050"/>
<text x="971.1" y="472.4" font-size="19.4" text-anchor="start" font-weight="bold">24 h</text>
<rect x="937.8" y="741.3" width="20.5" height="20" fill="#0066FF"/>
<text x="966.4" y="761.1" font-size="19.4" text-anchor="start" font-weight="bold">0 h</text>
<rect x="937.8" y="769.8" width="20.5" height="20" fill="#FF0000"/>
<text x="966.4" y="789.4" font-size="19.4" text-anchor="start" font-weight="bold">4 h</text>
<rect x="937.8" y="799.9" width="20.5" height="20" fill="#00B050"/>
<text x="966.4" y="819.5" font-size="19.4" text-anchor="start" font-weight="bold">24 h</text>
<rect x="741.9" y="1097" width="20.6" height="19.6" fill="#0066FF"/>
<text x="770.4" y="1115.7" font-size="19.4" text-anchor="start" font-weight="bold">0 h</text>
<rect x="741.9" y="1125.1" width="20.6" height="19.6" fill="#FF0000"/>
<text x="770.4" y="1143.9" font-size="19.4" text-anchor="start" font-weight="bold">4 h</text>
<rect x="741.9" y="1154.2" width="20.6" height="19.6" fill="#00B050"/>
<text x="770.4" y="1174.1" font-size="19.4" text-anchor="start" font-weight="bold">24 h</text>
<text transform="translate(28.3 165.4) rotate(-90)" font-size="20.4" text-anchor="middle" font-weight="bold">Log<tspan font-size="13" dy="3">2</tspan><tspan dy="-3" dx="1.2"> ration (Heat/sham)</tspan></text>
<text transform="translate(30.1 555.9) rotate(-90)" font-size="20.4" text-anchor="middle" font-weight="bold">Log<tspan font-size="13" dy="3">2</tspan><tspan dy="-3" dx="1.2"> ration (Heat/sham)</tspan></text>
<text transform="translate(29.2 868.1) rotate(-90)" font-size="20.4" text-anchor="middle" font-weight="bold">Log<tspan font-size="13" dy="3">2</tspan><tspan dy="-3" dx="1.2"> ration (Heat/sham)</tspan></text>
<text transform="translate(29.3 1234.5) rotate(-90)" font-size="20.4" text-anchor="middle" font-weight="bold">Log<tspan font-size="13" dy="3">2</tspan><tspan dy="-3" dx="1.2"> ration (Heat/sham)</tspan></text>
</svg>
</body></html>
